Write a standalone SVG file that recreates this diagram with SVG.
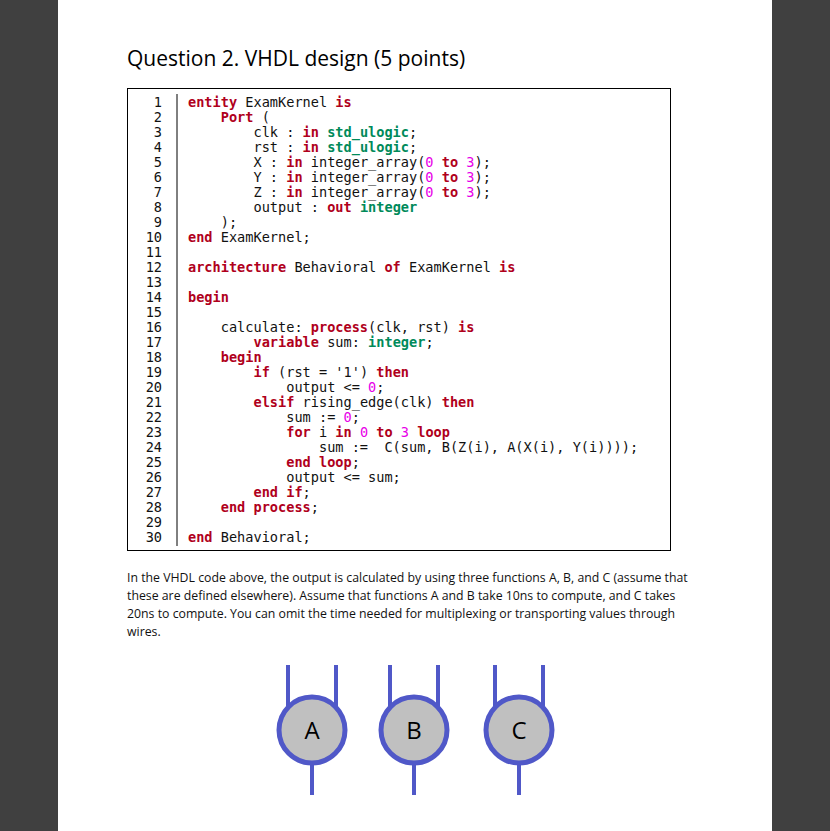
<svg xmlns="http://www.w3.org/2000/svg" width="830" height="831" viewBox="0 0 830 831">
<style>
.c{font-family:"DejaVu Sans Mono",monospace;font-size:13.6px;fill:#111;white-space:pre}
.k{fill:#b0001c;font-weight:bold}
.t{fill:#008a5a;font-weight:bold}
.n{fill:#e800e8}
.ln{font-family:"DejaVu Sans Mono",monospace;font-size:13.6px;fill:#111;text-anchor:end}
.p{font-family:"Open Sans","Liberation Sans",sans-serif;font-size:12.3px;fill:#111}
.w{stroke:#5058c8;stroke-width:4;fill:none}
.g{fill:#c0c0c0;stroke:#5058c8;stroke-width:5}
.l{font-family:"Open Sans","Liberation Sans",sans-serif;font-size:24px;fill:#000;text-anchor:middle}
</style>
<rect width="830" height="831" fill="#404040"/>
<rect x="58" y="0" width="714" height="831" fill="#fff"/>
<text x="127" y="66" font-family="Open Sans, Liberation Sans, sans-serif" font-size="21" fill="#000">Question 2. VHDL design (5 points)</text>
<rect x="127.5" y="88.5" width="543" height="462" fill="#fff" stroke="#000" stroke-width="1"/>
<line x1="177" y1="94" x2="177" y2="546" stroke="#000"/>
<g class="ln">
<text x="162" y="107">1</text><text x="162" y="122">2</text><text x="162" y="137">3</text><text x="162" y="152">4</text><text x="162" y="167">5</text><text x="162" y="182">6</text><text x="162" y="197">7</text><text x="162" y="212">8</text><text x="162" y="227">9</text><text x="162" y="242">10</text><text x="162" y="257">11</text><text x="162" y="272">12</text><text x="162" y="287">13</text><text x="162" y="302">14</text><text x="162" y="317">15</text><text x="162" y="332">16</text><text x="162" y="347">17</text><text x="162" y="362">18</text><text x="162" y="377">19</text><text x="162" y="392">20</text><text x="162" y="407">21</text><text x="162" y="422">22</text><text x="162" y="437">23</text><text x="162" y="452">24</text><text x="162" y="467">25</text><text x="162" y="482">26</text><text x="162" y="497">27</text><text x="162" y="512">28</text><text x="162" y="527">29</text><text x="162" y="542">30</text>
</g>
<g id="code">
<text class="c" x="188" y="107"><tspan class="k">entity</tspan> ExamKernel <tspan class="k">is</tspan></text>
<text class="c" x="188" y="122">    <tspan class="k">Port</tspan> (</text>
<text class="c" x="188" y="137">        clk : <tspan class="k">in</tspan> <tspan class="t">std_ulogic</tspan>;</text>
<text class="c" x="188" y="152">        rst : <tspan class="k">in</tspan> <tspan class="t">std_ulogic</tspan>;</text>
<text class="c" x="188" y="167">        X : <tspan class="k">in</tspan> integer_array(<tspan class="n">0</tspan> <tspan class="k">to</tspan> <tspan class="n">3</tspan>);</text>
<text class="c" x="188" y="182">        Y : <tspan class="k">in</tspan> integer_array(<tspan class="n">0</tspan> <tspan class="k">to</tspan> <tspan class="n">3</tspan>);</text>
<text class="c" x="188" y="197">        Z : <tspan class="k">in</tspan> integer_array(<tspan class="n">0</tspan> <tspan class="k">to</tspan> <tspan class="n">3</tspan>);</text>
<text class="c" x="188" y="212">        output : <tspan class="k">out</tspan> <tspan class="t">integer</tspan></text>
<text class="c" x="188" y="227">    );</text>
<text class="c" x="188" y="242"><tspan class="k">end</tspan> ExamKernel;</text>
<text class="c" x="188" y="272"><tspan class="k">architecture</tspan> Behavioral <tspan class="k">of</tspan> ExamKernel <tspan class="k">is</tspan></text>
<text class="c" x="188" y="302"><tspan class="k">begin</tspan></text>
<text class="c" x="188" y="332">    calculate: <tspan class="k">process</tspan>(clk, rst) <tspan class="k">is</tspan></text>
<text class="c" x="188" y="347">        <tspan class="k">variable</tspan> sum: <tspan class="t">integer</tspan>;</text>
<text class="c" x="188" y="362">    <tspan class="k">begin</tspan></text>
<text class="c" x="188" y="377">        <tspan class="k">if</tspan> (rst = '1') <tspan class="k">then</tspan></text>
<text class="c" x="188" y="392">            output &lt;= <tspan class="n">0</tspan>;</text>
<text class="c" x="188" y="407">        <tspan class="k">elsif</tspan> rising_edge(clk) <tspan class="k">then</tspan></text>
<text class="c" x="188" y="422">            sum := <tspan class="n">0</tspan>;</text>
<text class="c" x="188" y="437">            <tspan class="k">for</tspan> i <tspan class="k">in</tspan> <tspan class="n">0</tspan> <tspan class="k">to</tspan> <tspan class="n">3</tspan> <tspan class="k">loop</tspan></text>
<text class="c" x="188" y="452">                sum :=  C(sum, B(Z(i), A(X(i), Y(i))));</text>
<text class="c" x="188" y="467">            <tspan class="k">end</tspan> <tspan class="k">loop</tspan>;</text>
<text class="c" x="188" y="482">            output &lt;= sum;</text>
<text class="c" x="188" y="497">        <tspan class="k">end</tspan> <tspan class="k">if</tspan>;</text>
<text class="c" x="188" y="512">    <tspan class="k">end</tspan> <tspan class="k">process</tspan>;</text>
<text class="c" x="188" y="542"><tspan class="k">end</tspan> Behavioral;</text>
</g>
<text class="p" x="127" y="582">In the VHDL code above, the output is calculated by using three functions A, B, and C (assume that</text>
<text class="p" x="127" y="600">these are defined elsewhere). Assume that functions A and B take 10ns to compute, and C takes</text>
<text class="p" x="127" y="618">20ns to compute. You can omit the time needed for multiplexing or transporting values through</text>
<text class="p" x="127" y="636">wires.</text>
<g id="connectors">
<path class="w" d="M288 665V708M336 665V708M312 763V795M390 665V708M438 665V708M414 763V795M495 665V708M543 665V708M519 763V795"/>
</g>
<g id="nodeA"><circle class="g" cx="312" cy="730" r="33"/><text class="l" x="312" y="739">A</text></g>
<g id="nodeB"><circle class="g" cx="414" cy="730" r="33"/><text class="l" x="414" y="739">B</text></g>
<g id="nodeC"><circle class="g" cx="519" cy="730" r="33"/><text class="l" x="519" y="739">C</text></g>
</svg>
